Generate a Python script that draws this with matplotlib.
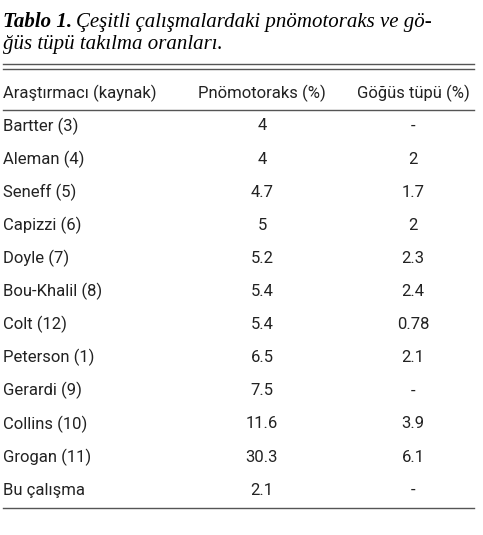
import matplotlib.pyplot as plt

# Tablo verileri
researchers = ['Bartter (3)', 'Aleman (4)', 'Seneff (5)', 'Capizzi (6)', 'Doyle (7)',
               'Bou-Khalil (8)', 'Colt (12)', 'Peterson (1)', 'Gerardi (9)',
               'Collins (10)', 'Grogan (11)', 'Bu çalışma']
pneumothorax = ['4', '4', '4.7', '5', '5.2', '5.4', '5.4', '6.5', '7.5', '11.6', '30.3', '2.1']
chest_tube = ['-', '2', '1.7', '2', '2.3', '2.4', '0.78', '2.1', '-', '3.9', '6.1', '-']
headers = ['Araştırmacı (kaynak)', 'Pnömotoraks (%)', 'Göğüs tüpü (%)']

sans = ['Roboto', 'DejaVu Sans']
serif = ['Liberation Serif', 'DejaVu Serif']

fig = plt.figure(figsize=(4.83, 5.35), dpi=100)
ax = fig.add_axes([0, 0, 1, 1])
ax.set_xlim(0, 483)
ax.set_ylim(535, 0)
ax.axis('off')

# Başlık
t = ax.text(3, 22, 'Tablo 1.', fontsize=15, family=serif, weight='bold', style='italic', va='center')
fig.canvas.draw()
bb = t.get_window_extent()
x_end = ax.transData.inverted().transform((bb.x1, bb.y0))[0]
ax.text(x_end + 4, 22, 'Çeşitli çalışmalardaki pnömotoraks ve gö-', fontsize=15, family=serif,
        style='italic', va='center')
ax.text(3, 45, 'ğüs tüpü takılma oranları.', fontsize=15, family=serif, style='italic', va='center')

# Çizgiler
lc = '#555555'
for y in (64, 69):
    ax.plot([3, 474], [y, y], color=lc, lw=1)
ax.plot([3, 474], [110, 110], color=lc, lw=1)
ax.plot([3, 474], [508, 508], color=lc, lw=1)

fs = 12
col = '#222222'
ax.text(3, 93, headers[0], fontsize=fs, family=sans, va='center', color=col)
ax.text(262, 93, headers[1], fontsize=fs, family=sans, va='center', ha='center', color=col)
ax.text(413, 93, headers[2], fontsize=fs, family=sans, va='center', ha='center', color=col)

for i, (r, p, c) in enumerate(zip(researchers, pneumothorax, chest_tube)):
    y = 126 + i * 33.1
    ax.text(3, y, r, fontsize=fs, family=sans, va='center', color=col)
    ax.text(262, y, p, fontsize=fs, family=sans, va='center', ha='center', color=col)
    ax.text(413, y, c, fontsize=fs, family=sans, va='center', ha='center', color=col)

fig.savefig('out.png', dpi=100)
